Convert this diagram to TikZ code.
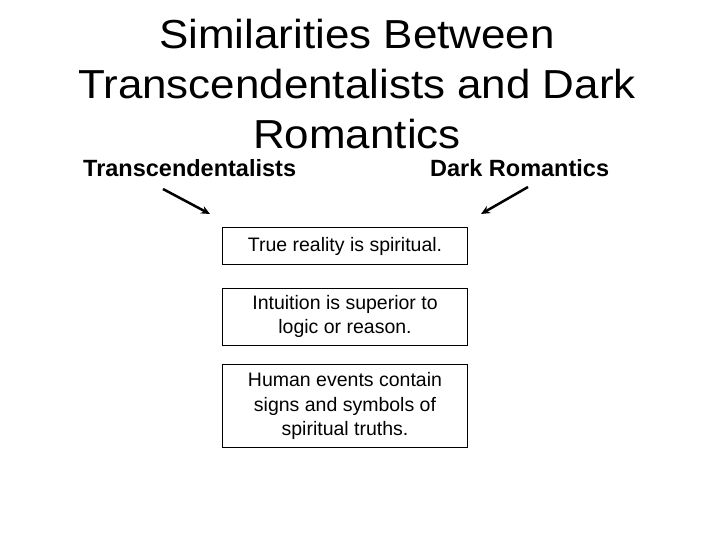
\documentclass[tikz,border=0pt]{standalone}
\usepackage{fontspec}
\setmainfont{Liberation Sans}
\newfontfamily\mytitlefont[FakeStretch=1.085]{Liberation Sans}
\usetikzlibrary{arrows.meta}
\begin{document}
\begin{tikzpicture}[x=1pt,y=-1pt,
  box/.style={draw=black,line width=1pt,fill=white,minimum width=245pt,align=center,font=\fontsize{19.5}{24.5}\selectfont,inner sep=0pt},
  lbl/.style={font=\fontsize{23.5}{28}\selectfont\bfseries,anchor=base west,inner sep=0pt},
  arr/.style={line width=2.5pt,-{Stealth[length=9pt,width=8pt]}}]
\useasboundingbox (0,0) rectangle (720,540);
\node[font=\mytitlefont\fontsize{40.5}{50}\selectfont,align=center,anchor=base,inner sep=0pt] (title) at (357,149) {Similarities Between\\Transcendentalists and Dark\\Romantics};
\node[lbl] (tl) at (83,177) {Transcendentalists};
\node[lbl] (dl) at (430,177) {Dark Romantics};
\node[box,minimum height=36pt] (b1) at (345,246) {True reality is spiritual.};
\node[box,minimum height=57pt] (b2) at (345,316.5) {Intuition is superior to\\logic or reason.};
\node[box,minimum height=83pt] (b3) at (345,406) {Human events contain\\signs and symbols of\\spiritual truths.};
\coordinate (ts) at (163,189);
\coordinate (te) at (210,214);
\coordinate (ds) at (528,187);
\coordinate (de) at (481,214);
\draw[arr] (ts) -- (te);
\draw[arr] (ds) -- (de);
\end{tikzpicture}
\end{document}
